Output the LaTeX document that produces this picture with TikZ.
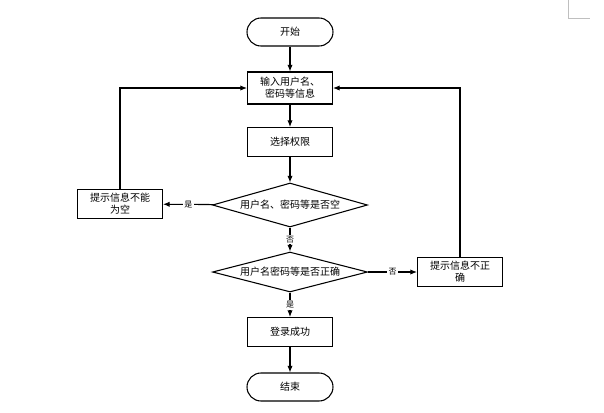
\documentclass[tikz,border=0pt]{standalone}
\usepackage{fontspec}
\newfontfamily\cjk{Noto Sans CJK SC}
\usetikzlibrary{shapes.geometric,arrows.meta}
\begin{document}
\begin{tikzpicture}[x=0.75pt,y=-0.75pt,
  every node/.style={font=\cjk\fontsize{7.5pt}{9pt}\selectfont,align=center,inner sep=0pt},
  box/.style={draw,thick,minimum width=85*0.75pt,minimum height=29*0.75pt},
  term/.style={draw,thick,rounded corners=10.5pt,minimum width=86*0.75pt,minimum height=28*0.75pt},
  dia/.style={draw,thick,diamond,aspect=3.5,minimum width=155*0.75pt,minimum height=44*0.75pt},
  arr/.style={thick,-{Latex[length=5pt,width=4pt]}},
  lab/.style={fill=white,font=\cjk\fontsize{6pt}{7pt}\selectfont,inner sep=1pt}]
\useasboundingbox (0,0) rectangle (604,412);
\draw[gray!50] (568,0) -- (568,18) -- (590,18);
\node[term] (start) at (290,32) {开始};
\node[box,minimum height=32*0.75pt] (input) at (290,88) {输入用户名、\\密码等信息};
\node[box] (perm) at (290,142) {选择权限};
\node[dia] (d1) at (290,205) {用户名、密码等是否空};
\node[box] (empty) at (120,204) {提示信息不能\\为空};
\node[dia,minimum height=40*0.75pt] (d2) at (290,272) {用户名密码等是否正确};
\node[box] (wrong) at (460,272) {提示信息不正\\确};
\node[box] (ok) at (290,332) {登录成功};
\node[term] (end) at (290,387) {结束};
\draw[arr] (start) -- (input);
\draw[arr] (input) -- (perm);
\draw[arr] (perm) -- (d1);
\draw[arr] (d1) -- node[lab]{否} (d2);
\draw[arr] (d1) -- node[lab]{是} (empty);
\draw[arr] (d2) -- node[lab]{否} (wrong);
\draw[arr] (d2) -- node[lab]{是} (ok);
\draw[arr] (ok) -- (end);
\draw[arr] (empty.north) |- (input.west);
\draw[arr] (wrong.north) |- (input.east);
\end{tikzpicture}
\end{document}
